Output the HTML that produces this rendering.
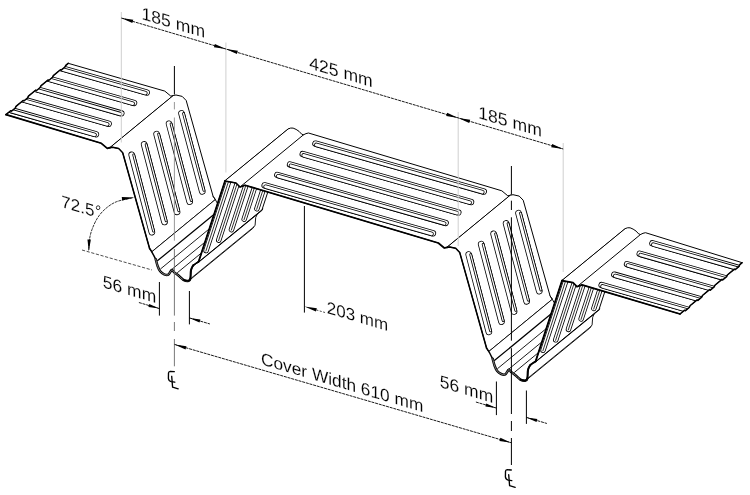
<!DOCTYPE html>
<html><head><meta charset="utf-8"><title>Deck profile</title>
<style>
html,body{margin:0;padding:0;background:#fff;}
body{width:750px;height:495px;overflow:hidden;font-family:"Liberation Sans",sans-serif;}
svg{display:block;filter:grayscale(1);}
text{font-family:"Liberation Sans",sans-serif;fill:#000;}
</style></head><body>
<svg width="750" height="495" viewBox="0 0 750 495">
<rect width="750" height="495" fill="#fff"/>
<g id="geom" stroke-linejoin="round" stroke-linecap="round">
<clipPath id="cfl"><path d="M6.00,114.60 L101.30,143.30 L107.30,148.30 L110.00,147.70 L173.50,95.50 L170.80,96.10 L164.80,91.10 L68.20,63.30 L65.77,65.30 L65.03,67.02 L61.17,70.20 L60.43,69.71 L53.33,75.56 L52.59,77.28 L48.73,80.46 L47.99,79.97 L40.89,85.82 L40.15,87.54 L36.29,90.72 L35.55,90.23 L28.45,96.08 L27.71,97.80 L23.85,100.98 L23.11,100.49 L16.01,106.34 L15.27,108.06 L11.41,111.24 L10.66,110.75 L6.00,114.60 Z"/></clipPath>
<path d="M6.00,114.60 L101.30,143.30 L107.30,148.30 L110.00,147.70 L173.50,95.50 L170.80,96.10 L164.80,91.10 L68.20,63.30 L65.77,65.30 L65.03,67.02 L61.17,70.20 L60.43,69.71 L53.33,75.56 L52.59,77.28 L48.73,80.46 L47.99,79.97 L40.89,85.82 L40.15,87.54 L36.29,90.72 L35.55,90.23 L28.45,96.08 L27.71,97.80 L23.85,100.98 L23.11,100.49 L16.01,106.34 L15.27,108.06 L11.41,111.24 L10.66,110.75 L6.00,114.60 Z" fill="#fff" stroke="#000" stroke-width="1.00" />
<line x1="-19.00" y1="101.51" x2="95.99" y2="134.28" stroke="#000" stroke-width="6.30" stroke-linecap="round" clip-path="url(#cfl)"/>
<line x1="-19.00" y1="101.51" x2="95.99" y2="134.28" stroke="#fff" stroke-width="4.70" stroke-linecap="round" clip-path="url(#cfl)"/>
<line x1="-18.11" y1="102.75" x2="94.58" y2="134.86" stroke="#000" stroke-width="4.40" stroke-linecap="round" clip-path="url(#cfl)"/>
<line x1="-18.11" y1="102.75" x2="94.58" y2="134.86" stroke="#fff" stroke-width="2.80" stroke-linecap="round" clip-path="url(#cfl)"/>
<line x1="-19.00" y1="87.45" x2="108.69" y2="123.84" stroke="#000" stroke-width="6.30" stroke-linecap="round" clip-path="url(#cfl)"/>
<line x1="-19.00" y1="87.45" x2="108.69" y2="123.84" stroke="#fff" stroke-width="4.70" stroke-linecap="round" clip-path="url(#cfl)"/>
<line x1="-18.11" y1="88.69" x2="107.28" y2="124.42" stroke="#000" stroke-width="4.40" stroke-linecap="round" clip-path="url(#cfl)"/>
<line x1="-18.11" y1="88.69" x2="107.28" y2="124.42" stroke="#fff" stroke-width="2.80" stroke-linecap="round" clip-path="url(#cfl)"/>
<line x1="-19.00" y1="73.39" x2="121.39" y2="113.40" stroke="#000" stroke-width="6.30" stroke-linecap="round" clip-path="url(#cfl)"/>
<line x1="-19.00" y1="73.39" x2="121.39" y2="113.40" stroke="#fff" stroke-width="4.70" stroke-linecap="round" clip-path="url(#cfl)"/>
<line x1="-18.11" y1="74.63" x2="119.98" y2="113.98" stroke="#000" stroke-width="4.40" stroke-linecap="round" clip-path="url(#cfl)"/>
<line x1="-18.11" y1="74.63" x2="119.98" y2="113.98" stroke="#fff" stroke-width="2.80" stroke-linecap="round" clip-path="url(#cfl)"/>
<line x1="-19.00" y1="59.33" x2="134.09" y2="102.96" stroke="#000" stroke-width="6.30" stroke-linecap="round" clip-path="url(#cfl)"/>
<line x1="-19.00" y1="59.33" x2="134.09" y2="102.96" stroke="#fff" stroke-width="4.70" stroke-linecap="round" clip-path="url(#cfl)"/>
<line x1="-18.11" y1="60.57" x2="132.68" y2="103.54" stroke="#000" stroke-width="4.40" stroke-linecap="round" clip-path="url(#cfl)"/>
<line x1="-18.11" y1="60.57" x2="132.68" y2="103.54" stroke="#fff" stroke-width="2.80" stroke-linecap="round" clip-path="url(#cfl)"/>
<line x1="-19.00" y1="45.27" x2="146.79" y2="92.52" stroke="#000" stroke-width="6.30" stroke-linecap="round" clip-path="url(#cfl)"/>
<line x1="-19.00" y1="45.27" x2="146.79" y2="92.52" stroke="#fff" stroke-width="4.70" stroke-linecap="round" clip-path="url(#cfl)"/>
<line x1="-18.11" y1="46.51" x2="145.38" y2="93.10" stroke="#000" stroke-width="4.40" stroke-linecap="round" clip-path="url(#cfl)"/>
<line x1="-18.11" y1="46.51" x2="145.38" y2="93.10" stroke="#fff" stroke-width="2.80" stroke-linecap="round" clip-path="url(#cfl)"/>
<path d="M6.00,114.60 L101.30,143.30 L107.30,148.30 L110.00,147.70" fill="none" stroke="#000" stroke-width="1.70" />
<path d="M68.20,63.30 L65.77,65.30 L65.03,67.02 L61.17,70.20 L60.43,69.71 L53.33,75.56 L52.59,77.28 L48.73,80.46 L47.99,79.97 L40.89,85.82 L40.15,87.54 L36.29,90.72 L35.55,90.23 L28.45,96.08 L27.71,97.80 L23.85,100.98 L23.11,100.49 L16.01,106.34 L15.27,108.06 L11.41,111.24 L10.66,110.75 L6.00,114.60" fill="none" stroke="#000" stroke-width="1.50" />
<path d="M110.00,147.70 L112.50,147.20 L118.70,148.60 L122.70,152.70 L149.60,248.50 L151.80,251.80 L215.30,199.60 L213.10,196.30 L186.20,100.50 L182.20,96.40 L176.00,95.00 L173.50,95.50 Z" fill="#fff" stroke="#000" stroke-width="1.00" />
<path d="M110.00,147.70 L112.50,147.20 L118.70,148.60 L122.70,152.70 L149.60,248.50" fill="none" stroke="#000" stroke-width="1.50" />
<path d="M151.80,251.80 L155.70,259.20 L157.70,266.30 L160.20,271.30 L164.20,274.30 L168.30,274.60 L171.80,270.00 L174.50,272.60 L178.50,275.50 L183.40,279.90 L188.50,280.90 L190.60,278.00 L191.20,270.30 L193.50,265.30 L198.60,261.70 L262.10,209.50 L257.00,213.10 L254.70,218.10 L254.10,225.80 L252.00,228.70 L246.90,227.70 L242.00,223.30 L238.00,220.40 L235.30,217.80 L231.80,222.40 L227.70,222.10 L223.70,219.10 L221.20,214.10 L219.20,207.00 L215.30,199.60 Z" fill="#fff" stroke="none" stroke-width="0.00" />
<path d="M213.10,196.30 C213.47,196.85 214.28,197.82 215.30,199.60 C216.32,201.38 218.22,204.58 219.20,207.00 C220.18,209.42 220.45,212.08 221.20,214.10 C221.95,216.12 223.28,218.27 223.70,219.10" fill="none" stroke="#000" stroke-width="1.00" />
<path d="M151.80,251.80 L215.30,199.60" fill="none" stroke="#000" stroke-width="0.90" />
<path d="M157.70,260.60 L221.20,208.40" fill="none" stroke="#000" stroke-width="1.25" />
<path d="M160.70,268.80 L224.20,216.60" fill="none" stroke="#000" stroke-width="0.90" />
<path d="M170.60,270.40 L234.10,218.20" fill="none" stroke="#000" stroke-width="0.90" />
<path d="M177.50,272.60 L241.00,220.40" fill="none" stroke="#000" stroke-width="0.90" />
<path d="M149.60,248.50 C149.97,249.05 150.78,250.02 151.80,251.80 C152.82,253.58 155.05,257.97 155.70,259.20" fill="none" stroke="#000" stroke-width="1.50" />
<path d="M155.70,259.20 C156.03,260.38 156.95,264.28 157.70,266.30 C158.45,268.32 159.12,269.97 160.20,271.30 C161.28,272.63 162.85,273.75 164.20,274.30 C165.55,274.85 167.03,275.32 168.30,274.60 C169.57,273.88 170.77,270.33 171.80,270.00 C172.83,269.67 173.38,271.68 174.50,272.60 C175.62,273.52 177.02,274.28 178.50,275.50 C179.98,276.72 181.73,279.00 183.40,279.90 C185.07,280.80 187.30,281.22 188.50,280.90 C189.70,280.58 190.15,279.77 190.60,278.00 C191.05,276.23 190.72,272.42 191.20,270.30 C191.68,268.18 193.12,266.13 193.50,265.30" fill="none" stroke="#000" stroke-width="2.50" />
<path d="M155.70,259.20 C156.03,260.38 156.95,264.28 157.70,266.30 C158.45,268.32 159.12,269.97 160.20,271.30 C161.28,272.63 162.85,273.75 164.20,274.30 C165.55,274.85 167.03,275.32 168.30,274.60 C169.57,273.88 170.77,270.33 171.80,270.00 C172.83,269.67 173.38,271.68 174.50,272.60 C175.62,273.52 177.02,274.28 178.50,275.50 C179.98,276.72 181.73,279.00 183.40,279.90 C185.07,280.80 187.30,281.22 188.50,280.90 C189.70,280.58 190.15,279.77 190.60,278.00 C191.05,276.23 190.72,272.42 191.20,270.30 C191.68,268.18 193.12,266.13 193.50,265.30" fill="none" stroke="#ddd" stroke-width="0.55" />
<path d="M193.50,265.30 C194.35,264.70 197.75,262.30 198.60,261.70" fill="none" stroke="#000" stroke-width="1.50" />
<line x1="131.73" y1="154.81" x2="151.87" y2="232.19" stroke="#000" stroke-width="6.60" stroke-linecap="round"/>
<line x1="131.73" y1="154.81" x2="151.87" y2="232.19" stroke="#fff" stroke-width="5.00" stroke-linecap="round"/>
<line x1="133.72" y1="154.91" x2="153.56" y2="231.13" stroke="#000" stroke-width="2.80" stroke-linecap="round"/>
<line x1="133.72" y1="154.91" x2="153.56" y2="231.13" stroke="#fff" stroke-width="1.20" stroke-linecap="round"/>
<line x1="144.18" y1="144.46" x2="164.47" y2="221.99" stroke="#000" stroke-width="6.60" stroke-linecap="round"/>
<line x1="144.18" y1="144.46" x2="164.47" y2="221.99" stroke="#fff" stroke-width="5.00" stroke-linecap="round"/>
<line x1="146.17" y1="144.56" x2="166.15" y2="220.93" stroke="#000" stroke-width="2.80" stroke-linecap="round"/>
<line x1="146.17" y1="144.56" x2="166.15" y2="220.93" stroke="#fff" stroke-width="1.20" stroke-linecap="round"/>
<line x1="156.64" y1="134.10" x2="177.06" y2="211.80" stroke="#000" stroke-width="6.60" stroke-linecap="round"/>
<line x1="156.64" y1="134.10" x2="177.06" y2="211.80" stroke="#fff" stroke-width="5.00" stroke-linecap="round"/>
<line x1="158.63" y1="134.20" x2="178.75" y2="210.73" stroke="#000" stroke-width="2.80" stroke-linecap="round"/>
<line x1="158.63" y1="134.20" x2="178.75" y2="210.73" stroke="#fff" stroke-width="1.20" stroke-linecap="round"/>
<line x1="169.09" y1="123.75" x2="189.66" y2="201.60" stroke="#000" stroke-width="6.60" stroke-linecap="round"/>
<line x1="169.09" y1="123.75" x2="189.66" y2="201.60" stroke="#fff" stroke-width="5.00" stroke-linecap="round"/>
<line x1="171.08" y1="123.85" x2="191.34" y2="200.53" stroke="#000" stroke-width="2.80" stroke-linecap="round"/>
<line x1="171.08" y1="123.85" x2="191.34" y2="200.53" stroke="#fff" stroke-width="1.20" stroke-linecap="round"/>
<line x1="181.54" y1="113.40" x2="202.26" y2="191.40" stroke="#000" stroke-width="6.60" stroke-linecap="round"/>
<line x1="181.54" y1="113.40" x2="202.26" y2="191.40" stroke="#fff" stroke-width="5.00" stroke-linecap="round"/>
<line x1="183.53" y1="113.50" x2="203.94" y2="190.33" stroke="#000" stroke-width="2.80" stroke-linecap="round"/>
<line x1="183.53" y1="113.50" x2="203.94" y2="190.33" stroke="#fff" stroke-width="1.20" stroke-linecap="round"/>
<path d="M188.50,280.90 L190.60,278.00 L191.20,270.30 L193.50,265.30 L198.60,261.70 L263.10,208.90 L258.00,212.50 L255.70,217.50 L255.10,225.20 L253.00,228.10 Z" fill="#fff" stroke="#000" stroke-width="0.90" />
<path d="M189.30,279.70 L253.80,226.90" fill="none" stroke="#000" stroke-width="0.80" />
<path d="M193.50,265.90 L258.00,213.10" fill="none" stroke="#000" stroke-width="0.80" />
<path d="M197.80,263.00 L262.30,210.20" fill="none" stroke="#000" stroke-width="0.80" />
<path d="M183.40,279.90 C184.25,280.07 187.30,281.22 188.50,280.90 C189.70,280.58 190.15,279.77 190.60,278.00 C191.05,276.23 190.72,272.42 191.20,270.30 C191.68,268.18 192.27,266.73 193.50,265.30 C194.73,263.87 197.75,262.30 198.60,261.70" fill="none" stroke="#000" stroke-width="1.60" />
<path d="M198.60,261.70 L225.00,181.00 L288.50,128.80 L262.10,209.50 Z" fill="#fff" stroke="#000" stroke-width="1.00" />
<path d="M198.60,261.70 L225.00,181.00" fill="none" stroke="#000" stroke-width="1.80" />
<line x1="206.05" y1="250.56" x2="228.36" y2="182.37" stroke="#000" stroke-width="5.40" stroke-linecap="round"/>
<line x1="206.05" y1="250.56" x2="228.36" y2="182.37" stroke="#fff" stroke-width="3.80" stroke-linecap="round"/>
<line x1="205.90" y1="251.06" x2="228.21" y2="182.37" stroke="#000" stroke-width="0.8"/>
<line x1="218.75" y1="240.12" x2="241.06" y2="171.93" stroke="#000" stroke-width="5.40" stroke-linecap="round"/>
<line x1="218.75" y1="240.12" x2="241.06" y2="171.93" stroke="#fff" stroke-width="3.80" stroke-linecap="round"/>
<line x1="218.60" y1="240.62" x2="240.91" y2="171.93" stroke="#000" stroke-width="0.8"/>
<line x1="231.45" y1="229.68" x2="253.76" y2="161.49" stroke="#000" stroke-width="5.40" stroke-linecap="round"/>
<line x1="231.45" y1="229.68" x2="253.76" y2="161.49" stroke="#fff" stroke-width="3.80" stroke-linecap="round"/>
<line x1="231.30" y1="230.18" x2="253.61" y2="161.49" stroke="#000" stroke-width="0.8"/>
<line x1="244.15" y1="219.24" x2="266.46" y2="151.05" stroke="#000" stroke-width="5.40" stroke-linecap="round"/>
<line x1="244.15" y1="219.24" x2="266.46" y2="151.05" stroke="#fff" stroke-width="3.80" stroke-linecap="round"/>
<line x1="244.00" y1="219.74" x2="266.31" y2="151.05" stroke="#000" stroke-width="0.8"/>
<line x1="256.85" y1="208.80" x2="279.16" y2="140.61" stroke="#000" stroke-width="5.40" stroke-linecap="round"/>
<line x1="256.85" y1="208.80" x2="279.16" y2="140.61" stroke="#fff" stroke-width="3.80" stroke-linecap="round"/>
<line x1="256.70" y1="209.30" x2="279.01" y2="140.61" stroke="#000" stroke-width="0.8"/>
<clipPath id="cfc"><path d="M225.00,181.00 L236.00,183.00 L240.00,187.00 L245.00,185.20 L438.30,243.00 L444.30,248.00 L447.00,247.40 L510.50,195.20 L507.80,195.80 L501.80,190.80 L308.50,133.00 L306.00,133.60 L303.50,134.80 L301.70,134.20 L299.10,131.40 L296.10,129.40 L293.10,128.10 L290.70,128.05 L288.50,128.80 Z"/></clipPath>
<path d="M225.00,181.00 L236.00,183.00 L240.00,187.00 L245.00,185.20 L438.30,243.00 L444.30,248.00 L447.00,247.40 L510.50,195.20 L507.80,195.80 L501.80,190.80 L308.50,133.00 L306.00,133.60 L303.50,134.80 L301.70,134.20 L299.10,131.40 L296.10,129.40 L293.10,128.10 L290.70,128.05 L288.50,128.80 Z" fill="#fff" stroke="#000" stroke-width="1.00" />
<path d="M240.00,187.00 L303.50,134.80" fill="none" stroke="#000" stroke-width="1.00" />
<line x1="264.59" y1="185.38" x2="432.99" y2="233.38" stroke="#000" stroke-width="6.30" stroke-linecap="round" clip-path="url(#cfc)"/>
<line x1="264.59" y1="185.38" x2="432.99" y2="233.38" stroke="#fff" stroke-width="4.70" stroke-linecap="round" clip-path="url(#cfc)"/>
<line x1="265.49" y1="186.63" x2="431.58" y2="233.96" stroke="#000" stroke-width="4.40" stroke-linecap="round" clip-path="url(#cfc)"/>
<line x1="265.49" y1="186.63" x2="431.58" y2="233.96" stroke="#fff" stroke-width="2.80" stroke-linecap="round" clip-path="url(#cfc)"/>
<line x1="277.29" y1="174.94" x2="445.69" y2="222.94" stroke="#000" stroke-width="6.30" stroke-linecap="round" clip-path="url(#cfc)"/>
<line x1="277.29" y1="174.94" x2="445.69" y2="222.94" stroke="#fff" stroke-width="4.70" stroke-linecap="round" clip-path="url(#cfc)"/>
<line x1="278.19" y1="176.19" x2="444.28" y2="223.52" stroke="#000" stroke-width="4.40" stroke-linecap="round" clip-path="url(#cfc)"/>
<line x1="278.19" y1="176.19" x2="444.28" y2="223.52" stroke="#fff" stroke-width="2.80" stroke-linecap="round" clip-path="url(#cfc)"/>
<line x1="289.99" y1="164.50" x2="458.39" y2="212.50" stroke="#000" stroke-width="6.30" stroke-linecap="round" clip-path="url(#cfc)"/>
<line x1="289.99" y1="164.50" x2="458.39" y2="212.50" stroke="#fff" stroke-width="4.70" stroke-linecap="round" clip-path="url(#cfc)"/>
<line x1="290.89" y1="165.75" x2="456.98" y2="213.08" stroke="#000" stroke-width="4.40" stroke-linecap="round" clip-path="url(#cfc)"/>
<line x1="290.89" y1="165.75" x2="456.98" y2="213.08" stroke="#fff" stroke-width="2.80" stroke-linecap="round" clip-path="url(#cfc)"/>
<line x1="302.69" y1="154.06" x2="471.09" y2="202.06" stroke="#000" stroke-width="6.30" stroke-linecap="round" clip-path="url(#cfc)"/>
<line x1="302.69" y1="154.06" x2="471.09" y2="202.06" stroke="#fff" stroke-width="4.70" stroke-linecap="round" clip-path="url(#cfc)"/>
<line x1="303.59" y1="155.31" x2="469.68" y2="202.64" stroke="#000" stroke-width="4.40" stroke-linecap="round" clip-path="url(#cfc)"/>
<line x1="303.59" y1="155.31" x2="469.68" y2="202.64" stroke="#fff" stroke-width="2.80" stroke-linecap="round" clip-path="url(#cfc)"/>
<line x1="315.39" y1="143.62" x2="483.79" y2="191.62" stroke="#000" stroke-width="6.30" stroke-linecap="round" clip-path="url(#cfc)"/>
<line x1="315.39" y1="143.62" x2="483.79" y2="191.62" stroke="#fff" stroke-width="4.70" stroke-linecap="round" clip-path="url(#cfc)"/>
<line x1="316.29" y1="144.87" x2="482.38" y2="192.20" stroke="#000" stroke-width="4.40" stroke-linecap="round" clip-path="url(#cfc)"/>
<line x1="316.29" y1="144.87" x2="482.38" y2="192.20" stroke="#fff" stroke-width="2.80" stroke-linecap="round" clip-path="url(#cfc)"/>
<path d="M225.00,181.00 L236.00,183.00 L240.00,187.00 L245.00,185.20 L438.30,243.00 L444.30,248.00 L447.00,247.40" fill="none" stroke="#000" stroke-width="1.70" />
<path d="M447.00,247.40 L449.50,246.90 L455.70,248.30 L459.70,252.40 L486.60,348.20 L488.80,351.50 L552.30,299.30 L550.10,296.00 L523.20,200.20 L519.20,196.10 L513.00,194.70 L510.50,195.20 Z" fill="#fff" stroke="#000" stroke-width="1.00" />
<path d="M447.00,247.40 L449.50,246.90 L455.70,248.30 L459.70,252.40 L486.60,348.20" fill="none" stroke="#000" stroke-width="1.50" />
<path d="M488.80,351.50 L492.70,358.90 L494.70,366.00 L497.20,371.00 L501.20,374.00 L505.30,374.30 L508.80,369.70 L511.50,372.30 L515.50,375.20 L520.40,379.60 L525.50,380.60 L527.60,377.70 L528.20,370.00 L530.50,365.00 L535.60,361.40 L599.10,309.20 L594.00,312.80 L591.70,317.80 L591.10,325.50 L589.00,328.40 L583.90,327.40 L579.00,323.00 L575.00,320.10 L572.30,317.50 L568.80,322.10 L564.70,321.80 L560.70,318.80 L558.20,313.80 L556.20,306.70 L552.30,299.30 Z" fill="#fff" stroke="none" stroke-width="0.00" />
<path d="M550.10,296.00 C550.47,296.55 551.28,297.52 552.30,299.30 C553.32,301.08 555.22,304.28 556.20,306.70 C557.18,309.12 557.45,311.78 558.20,313.80 C558.95,315.82 560.28,317.97 560.70,318.80" fill="none" stroke="#000" stroke-width="1.00" />
<path d="M488.80,351.50 L552.30,299.30" fill="none" stroke="#000" stroke-width="0.90" />
<path d="M494.70,360.30 L558.20,308.10" fill="none" stroke="#000" stroke-width="1.25" />
<path d="M497.70,368.50 L561.20,316.30" fill="none" stroke="#000" stroke-width="0.90" />
<path d="M507.60,370.10 L571.10,317.90" fill="none" stroke="#000" stroke-width="0.90" />
<path d="M514.50,372.30 L578.00,320.10" fill="none" stroke="#000" stroke-width="0.90" />
<path d="M486.60,348.20 C486.97,348.75 487.78,349.72 488.80,351.50 C489.82,353.28 492.05,357.67 492.70,358.90" fill="none" stroke="#000" stroke-width="1.50" />
<path d="M492.70,358.90 C493.03,360.08 493.95,363.98 494.70,366.00 C495.45,368.02 496.12,369.67 497.20,371.00 C498.28,372.33 499.85,373.45 501.20,374.00 C502.55,374.55 504.03,375.02 505.30,374.30 C506.57,373.58 507.77,370.03 508.80,369.70 C509.83,369.37 510.38,371.38 511.50,372.30 C512.62,373.22 514.02,373.98 515.50,375.20 C516.98,376.42 518.73,378.70 520.40,379.60 C522.07,380.50 524.30,380.92 525.50,380.60 C526.70,380.28 527.15,379.47 527.60,377.70 C528.05,375.93 527.72,372.12 528.20,370.00 C528.68,367.88 530.12,365.83 530.50,365.00" fill="none" stroke="#000" stroke-width="2.50" />
<path d="M492.70,358.90 C493.03,360.08 493.95,363.98 494.70,366.00 C495.45,368.02 496.12,369.67 497.20,371.00 C498.28,372.33 499.85,373.45 501.20,374.00 C502.55,374.55 504.03,375.02 505.30,374.30 C506.57,373.58 507.77,370.03 508.80,369.70 C509.83,369.37 510.38,371.38 511.50,372.30 C512.62,373.22 514.02,373.98 515.50,375.20 C516.98,376.42 518.73,378.70 520.40,379.60 C522.07,380.50 524.30,380.92 525.50,380.60 C526.70,380.28 527.15,379.47 527.60,377.70 C528.05,375.93 527.72,372.12 528.20,370.00 C528.68,367.88 530.12,365.83 530.50,365.00" fill="none" stroke="#ddd" stroke-width="0.55" />
<path d="M530.50,365.00 C531.35,364.40 534.75,362.00 535.60,361.40" fill="none" stroke="#000" stroke-width="1.50" />
<line x1="468.73" y1="254.51" x2="488.87" y2="331.89" stroke="#000" stroke-width="6.60" stroke-linecap="round"/>
<line x1="468.73" y1="254.51" x2="488.87" y2="331.89" stroke="#fff" stroke-width="5.00" stroke-linecap="round"/>
<line x1="470.72" y1="254.61" x2="490.56" y2="330.83" stroke="#000" stroke-width="2.80" stroke-linecap="round"/>
<line x1="470.72" y1="254.61" x2="490.56" y2="330.83" stroke="#fff" stroke-width="1.20" stroke-linecap="round"/>
<line x1="481.18" y1="244.16" x2="501.47" y2="321.69" stroke="#000" stroke-width="6.60" stroke-linecap="round"/>
<line x1="481.18" y1="244.16" x2="501.47" y2="321.69" stroke="#fff" stroke-width="5.00" stroke-linecap="round"/>
<line x1="483.17" y1="244.26" x2="503.15" y2="320.63" stroke="#000" stroke-width="2.80" stroke-linecap="round"/>
<line x1="483.17" y1="244.26" x2="503.15" y2="320.63" stroke="#fff" stroke-width="1.20" stroke-linecap="round"/>
<line x1="493.64" y1="233.80" x2="514.06" y2="311.50" stroke="#000" stroke-width="6.60" stroke-linecap="round"/>
<line x1="493.64" y1="233.80" x2="514.06" y2="311.50" stroke="#fff" stroke-width="5.00" stroke-linecap="round"/>
<line x1="495.63" y1="233.90" x2="515.75" y2="310.43" stroke="#000" stroke-width="2.80" stroke-linecap="round"/>
<line x1="495.63" y1="233.90" x2="515.75" y2="310.43" stroke="#fff" stroke-width="1.20" stroke-linecap="round"/>
<line x1="506.09" y1="223.45" x2="526.66" y2="301.30" stroke="#000" stroke-width="6.60" stroke-linecap="round"/>
<line x1="506.09" y1="223.45" x2="526.66" y2="301.30" stroke="#fff" stroke-width="5.00" stroke-linecap="round"/>
<line x1="508.08" y1="223.55" x2="528.34" y2="300.23" stroke="#000" stroke-width="2.80" stroke-linecap="round"/>
<line x1="508.08" y1="223.55" x2="528.34" y2="300.23" stroke="#fff" stroke-width="1.20" stroke-linecap="round"/>
<line x1="518.54" y1="213.10" x2="539.26" y2="291.10" stroke="#000" stroke-width="6.60" stroke-linecap="round"/>
<line x1="518.54" y1="213.10" x2="539.26" y2="291.10" stroke="#fff" stroke-width="5.00" stroke-linecap="round"/>
<line x1="520.53" y1="213.20" x2="540.94" y2="290.03" stroke="#000" stroke-width="2.80" stroke-linecap="round"/>
<line x1="520.53" y1="213.20" x2="540.94" y2="290.03" stroke="#fff" stroke-width="1.20" stroke-linecap="round"/>
<path d="M525.50,380.60 L527.60,377.70 L528.20,370.00 L530.50,365.00 L535.60,361.40 L600.10,308.60 L595.00,312.20 L592.70,317.20 L592.10,324.90 L590.00,327.80 Z" fill="#fff" stroke="#000" stroke-width="0.90" />
<path d="M526.30,379.40 L590.80,326.60" fill="none" stroke="#000" stroke-width="0.80" />
<path d="M530.50,365.60 L595.00,312.80" fill="none" stroke="#000" stroke-width="0.80" />
<path d="M534.80,362.70 L599.30,309.90" fill="none" stroke="#000" stroke-width="0.80" />
<path d="M520.40,379.60 C521.25,379.77 524.30,380.92 525.50,380.60 C526.70,380.28 527.15,379.47 527.60,377.70 C528.05,375.93 527.72,372.12 528.20,370.00 C528.68,367.88 529.27,366.43 530.50,365.00 C531.73,363.57 534.75,362.00 535.60,361.40" fill="none" stroke="#000" stroke-width="1.60" />
<path d="M535.60,361.40 L562.00,280.70 L625.50,228.50 L599.10,309.20 Z" fill="#fff" stroke="#000" stroke-width="1.00" />
<path d="M535.60,361.40 L562.00,280.70" fill="none" stroke="#000" stroke-width="1.80" />
<line x1="543.05" y1="350.26" x2="565.36" y2="282.07" stroke="#000" stroke-width="5.40" stroke-linecap="round"/>
<line x1="543.05" y1="350.26" x2="565.36" y2="282.07" stroke="#fff" stroke-width="3.80" stroke-linecap="round"/>
<line x1="542.90" y1="350.76" x2="565.21" y2="282.07" stroke="#000" stroke-width="0.8"/>
<line x1="555.75" y1="339.82" x2="578.06" y2="271.63" stroke="#000" stroke-width="5.40" stroke-linecap="round"/>
<line x1="555.75" y1="339.82" x2="578.06" y2="271.63" stroke="#fff" stroke-width="3.80" stroke-linecap="round"/>
<line x1="555.60" y1="340.32" x2="577.91" y2="271.63" stroke="#000" stroke-width="0.8"/>
<line x1="568.45" y1="329.38" x2="590.76" y2="261.19" stroke="#000" stroke-width="5.40" stroke-linecap="round"/>
<line x1="568.45" y1="329.38" x2="590.76" y2="261.19" stroke="#fff" stroke-width="3.80" stroke-linecap="round"/>
<line x1="568.30" y1="329.88" x2="590.61" y2="261.19" stroke="#000" stroke-width="0.8"/>
<line x1="581.15" y1="318.94" x2="603.46" y2="250.75" stroke="#000" stroke-width="5.40" stroke-linecap="round"/>
<line x1="581.15" y1="318.94" x2="603.46" y2="250.75" stroke="#fff" stroke-width="3.80" stroke-linecap="round"/>
<line x1="581.00" y1="319.44" x2="603.31" y2="250.75" stroke="#000" stroke-width="0.8"/>
<line x1="593.85" y1="308.50" x2="616.16" y2="240.31" stroke="#000" stroke-width="5.40" stroke-linecap="round"/>
<line x1="593.85" y1="308.50" x2="616.16" y2="240.31" stroke="#fff" stroke-width="3.80" stroke-linecap="round"/>
<line x1="593.70" y1="309.00" x2="616.01" y2="240.31" stroke="#000" stroke-width="0.8"/>
<clipPath id="cfr"><path d="M562.00,280.70 L573.00,282.70 L577.00,286.70 L582.00,284.90 L680.00,314.00 L684.66,310.15 L685.41,310.64 L689.27,307.46 L690.01,305.74 L697.11,299.89 L697.85,300.38 L701.71,297.20 L702.45,295.48 L709.54,289.63 L710.29,290.12 L714.15,286.94 L714.89,285.22 L721.99,279.37 L722.73,279.86 L726.59,276.68 L727.33,274.96 L734.42,269.11 L735.17,269.60 L739.03,266.42 L739.77,264.70 L742.20,262.70 L645.50,232.70 L643.00,233.30 L640.50,234.50 L638.70,233.90 L636.10,231.10 L633.10,229.10 L630.10,227.80 L627.70,227.75 L625.50,228.50 Z"/></clipPath>
<path d="M562.00,280.70 L573.00,282.70 L577.00,286.70 L582.00,284.90 L680.00,314.00 L684.66,310.15 L685.41,310.64 L689.27,307.46 L690.01,305.74 L697.11,299.89 L697.85,300.38 L701.71,297.20 L702.45,295.48 L709.54,289.63 L710.29,290.12 L714.15,286.94 L714.89,285.22 L721.99,279.37 L722.73,279.86 L726.59,276.68 L727.33,274.96 L734.42,269.11 L735.17,269.60 L739.03,266.42 L739.77,264.70 L742.20,262.70 L645.50,232.70 L643.00,233.30 L640.50,234.50 L638.70,233.90 L636.10,231.10 L633.10,229.10 L630.10,227.80 L627.70,227.75 L625.50,228.50 Z" fill="#fff" stroke="#000" stroke-width="1.00" />
<path d="M577.00,286.70 L640.50,234.50" fill="none" stroke="#000" stroke-width="1.00" />
<line x1="601.59" y1="285.08" x2="712.49" y2="316.69" stroke="#000" stroke-width="6.30" stroke-linecap="round" clip-path="url(#cfr)"/>
<line x1="601.59" y1="285.08" x2="712.49" y2="316.69" stroke="#fff" stroke-width="4.70" stroke-linecap="round" clip-path="url(#cfr)"/>
<line x1="602.49" y1="286.33" x2="711.08" y2="317.28" stroke="#000" stroke-width="4.40" stroke-linecap="round" clip-path="url(#cfr)"/>
<line x1="602.49" y1="286.33" x2="711.08" y2="317.28" stroke="#fff" stroke-width="2.80" stroke-linecap="round" clip-path="url(#cfr)"/>
<line x1="614.29" y1="274.64" x2="725.19" y2="306.25" stroke="#000" stroke-width="6.30" stroke-linecap="round" clip-path="url(#cfr)"/>
<line x1="614.29" y1="274.64" x2="725.19" y2="306.25" stroke="#fff" stroke-width="4.70" stroke-linecap="round" clip-path="url(#cfr)"/>
<line x1="615.19" y1="275.89" x2="723.78" y2="306.84" stroke="#000" stroke-width="4.40" stroke-linecap="round" clip-path="url(#cfr)"/>
<line x1="615.19" y1="275.89" x2="723.78" y2="306.84" stroke="#fff" stroke-width="2.80" stroke-linecap="round" clip-path="url(#cfr)"/>
<line x1="626.99" y1="264.20" x2="737.89" y2="295.81" stroke="#000" stroke-width="6.30" stroke-linecap="round" clip-path="url(#cfr)"/>
<line x1="626.99" y1="264.20" x2="737.89" y2="295.81" stroke="#fff" stroke-width="4.70" stroke-linecap="round" clip-path="url(#cfr)"/>
<line x1="627.89" y1="265.45" x2="736.48" y2="296.40" stroke="#000" stroke-width="4.40" stroke-linecap="round" clip-path="url(#cfr)"/>
<line x1="627.89" y1="265.45" x2="736.48" y2="296.40" stroke="#fff" stroke-width="2.80" stroke-linecap="round" clip-path="url(#cfr)"/>
<line x1="639.69" y1="253.76" x2="750.59" y2="285.37" stroke="#000" stroke-width="6.30" stroke-linecap="round" clip-path="url(#cfr)"/>
<line x1="639.69" y1="253.76" x2="750.59" y2="285.37" stroke="#fff" stroke-width="4.70" stroke-linecap="round" clip-path="url(#cfr)"/>
<line x1="640.59" y1="255.01" x2="749.18" y2="285.96" stroke="#000" stroke-width="4.40" stroke-linecap="round" clip-path="url(#cfr)"/>
<line x1="640.59" y1="255.01" x2="749.18" y2="285.96" stroke="#fff" stroke-width="2.80" stroke-linecap="round" clip-path="url(#cfr)"/>
<line x1="652.39" y1="243.32" x2="763.29" y2="274.93" stroke="#000" stroke-width="6.30" stroke-linecap="round" clip-path="url(#cfr)"/>
<line x1="652.39" y1="243.32" x2="763.29" y2="274.93" stroke="#fff" stroke-width="4.70" stroke-linecap="round" clip-path="url(#cfr)"/>
<line x1="653.29" y1="244.57" x2="761.88" y2="275.52" stroke="#000" stroke-width="4.40" stroke-linecap="round" clip-path="url(#cfr)"/>
<line x1="653.29" y1="244.57" x2="761.88" y2="275.52" stroke="#fff" stroke-width="2.80" stroke-linecap="round" clip-path="url(#cfr)"/>
<path d="M562.00,280.70 L573.00,282.70 L577.00,286.70 L582.00,284.90 L680.00,314.00" fill="none" stroke="#000" stroke-width="1.70" />
<path d="M680.00,314.00 L684.66,310.15 L685.41,310.64 L689.27,307.46 L690.01,305.74 L697.11,299.89 L697.85,300.38 L701.71,297.20 L702.45,295.48 L709.54,289.63 L710.29,290.12 L714.15,286.94 L714.89,285.22 L721.99,279.37 L722.73,279.86 L726.59,276.68 L727.33,274.96 L734.42,269.11 L735.17,269.60 L739.03,266.42 L739.77,264.70 L742.20,262.70" fill="none" stroke="#000" stroke-width="1.50" />
</g>
<g id="dims">
<line x1="121.30" y1="12.00" x2="121.30" y2="142.50" stroke="#cfcfcf" stroke-width="1.00"/>
<line x1="225.90" y1="42.50" x2="225.90" y2="172.50" stroke="#cfcfcf" stroke-width="1.00"/>
<line x1="458.20" y1="112.00" x2="458.20" y2="246.00" stroke="#cfcfcf" stroke-width="1.00"/>
<line x1="563.20" y1="143.00" x2="563.20" y2="272.00" stroke="#cfcfcf" stroke-width="1.00"/>
<line x1="121.30" y1="18.00" x2="563.20" y2="149.02" stroke="#000" stroke-width="0.90" stroke-dasharray="3 0.8"/>
<path d="M121.30,18.00 L133.29,19.78 L132.32,23.04 Z" fill="#000"/>
<path d="M225.90,49.01 L213.91,47.23 L214.88,43.97 Z" fill="#000"/>
<path d="M225.90,49.01 L237.89,50.80 L236.92,54.05 Z" fill="#000"/>
<path d="M458.20,117.89 L446.21,116.11 L447.18,112.85 Z" fill="#000"/>
<path d="M458.20,117.89 L470.19,119.67 L469.22,122.93 Z" fill="#000"/>
<path d="M563.20,149.02 L551.21,147.24 L552.18,143.98 Z" fill="#000"/>
<text x="0" y="0" font-size="17.60" stroke="#fff" stroke-width="0.12" transform="matrix(1 0.2965 0 1 141.50 19.00)">185 mm</text>
<text x="0" y="0" font-size="17.60" stroke="#fff" stroke-width="0.12" transform="matrix(1 0.2965 0 1 309.20 68.40)">425 mm</text>
<text x="0" y="0" font-size="17.60" stroke="#fff" stroke-width="0.12" transform="matrix(1 0.2965 0 1 478.30 118.00)">185 mm</text>
<line x1="174.40" y1="66.00" x2="174.40" y2="94.50" stroke="#000" stroke-width="1.00"/>
<line x1="174.40" y1="102.00" x2="174.40" y2="109.40" stroke="#8c8c8c" stroke-width="0.90"/>
<line x1="174.40" y1="117.50" x2="174.40" y2="240.70" stroke="#8c8c8c" stroke-width="0.90"/>
<line x1="174.40" y1="249.00" x2="174.40" y2="315.60" stroke="#6a6a6a" stroke-width="0.90"/>
<line x1="174.40" y1="322.00" x2="174.40" y2="331.00" stroke="#6a6a6a" stroke-width="0.90"/>
<line x1="174.40" y1="339.00" x2="174.40" y2="366.30" stroke="#6a6a6a" stroke-width="0.90"/>
<line x1="511.40" y1="166.00" x2="511.40" y2="194.70" stroke="#000" stroke-width="1.00"/>
<line x1="511.40" y1="200.70" x2="511.40" y2="210.00" stroke="#000" stroke-width="1.00"/>
<line x1="511.40" y1="217.30" x2="511.40" y2="340.70" stroke="#000" stroke-width="1.00"/>
<line x1="511.40" y1="348.20" x2="511.40" y2="414.00" stroke="#000" stroke-width="1.00"/>
<line x1="511.40" y1="421.00" x2="511.40" y2="431.00" stroke="#000" stroke-width="1.00"/>
<line x1="511.40" y1="438.00" x2="511.40" y2="465.00" stroke="#000" stroke-width="1.00"/>
<path d="M174.30,371.60 L170.20,371.30 Q168.60,371.40 168.50,373.00 L168.40,378.50 Q168.80,381.20 171.20,381.70 L174.80,382.20" fill="none" stroke="#000" stroke-width="1.35" stroke-linecap="round" stroke-linejoin="round"/>
<path d="M171.70,376.30 L172.60,387.20 L178.20,388.90" fill="none" stroke="#000" stroke-width="1.35" stroke-linecap="round" stroke-linejoin="round"/>
<path d="M511.30,470.00 L507.20,469.70 Q505.60,469.80 505.50,471.40 L505.40,476.90 Q505.80,479.60 508.20,480.10 L511.80,480.60" fill="none" stroke="#000" stroke-width="1.35" stroke-linecap="round" stroke-linejoin="round"/>
<path d="M508.70,474.70 L509.60,485.60 L515.20,487.30" fill="none" stroke="#000" stroke-width="1.35" stroke-linecap="round" stroke-linejoin="round"/>
<line x1="159.40" y1="282.00" x2="159.40" y2="315.60" stroke="#000" stroke-width="1.00"/>
<line x1="189.40" y1="291.00" x2="189.40" y2="324.40" stroke="#000" stroke-width="1.00"/>
<line x1="138.90" y1="302.52" x2="159.40" y2="308.60" stroke="#000" stroke-width="0.90" stroke-dasharray="3 0.8"/>
<path d="M159.40,308.60 L148.43,306.91 L149.28,304.03 Z" fill="#000"/>
<line x1="189.40" y1="317.89" x2="209.90" y2="323.97" stroke="#000" stroke-width="0.90" stroke-dasharray="3 0.8"/>
<path d="M189.40,317.89 L200.37,319.58 L199.52,322.46 Z" fill="#000"/>
<text x="0" y="0" font-size="17.50" stroke="#fff" stroke-width="0.12" transform="matrix(1 0.2965 0 1 102.80 287.30)">56 mm</text>
<line x1="496.40" y1="381.50" x2="496.40" y2="415.10" stroke="#000" stroke-width="1.00"/>
<line x1="526.40" y1="390.50" x2="526.40" y2="423.90" stroke="#000" stroke-width="1.00"/>
<line x1="475.90" y1="402.02" x2="496.40" y2="408.10" stroke="#000" stroke-width="0.90" stroke-dasharray="3 0.8"/>
<path d="M496.40,408.10 L485.43,406.41 L486.28,403.53 Z" fill="#000"/>
<line x1="526.40" y1="417.39" x2="546.90" y2="423.47" stroke="#000" stroke-width="0.90" stroke-dasharray="3 0.8"/>
<path d="M526.40,417.39 L537.37,419.08 L536.52,421.96 Z" fill="#000"/>
<text x="0" y="0" font-size="17.50" stroke="#fff" stroke-width="0.12" transform="matrix(1 0.2965 0 1 439.80 387.10)">56 mm</text>
<line x1="174.50" y1="344.40" x2="511.40" y2="442.79" stroke="#000" stroke-width="0.90" stroke-dasharray="3 0.8"/>
<path d="M174.50,344.40 L186.49,346.18 L185.52,349.44 Z" fill="#000"/>
<path d="M511.40,442.79 L499.41,441.01 L500.38,437.75 Z" fill="#000"/>
<text x="0" y="0" font-size="17.30" stroke="#fff" stroke-width="0.12" transform="matrix(1 0.2965 0 1 261.00 364.20)">Cover Width 610 mm</text>
<line x1="304.40" y1="206.00" x2="304.40" y2="312.60" stroke="#000" stroke-width="1.00"/>
<path d="M304.40,306.40 L316.87,308.32 L315.90,311.58 Z" fill="#000"/>
<line x1="316.40" y1="309.96" x2="325.40" y2="312.63" stroke="#000" stroke-width="0.70" stroke-dasharray="2 1.5"/>
<text x="0" y="0" font-size="17.00" stroke="#fff" stroke-width="0.12" transform="matrix(1 0.2965 0 1 326.80 313.00)">203 mm</text>
<line x1="82.00" y1="250.00" x2="152.00" y2="270.00" stroke="#000" stroke-width="0.70" stroke-dasharray="3.2 1.6"/>
<path d="M132.50,197.90 C129.88,198.52 121.22,199.87 116.80,201.60 C112.38,203.33 109.17,205.65 106.00,208.30 C102.83,210.95 100.13,213.97 97.80,217.50 C95.47,221.03 93.40,225.75 92.00,229.50 C90.60,233.25 89.93,236.50 89.40,240.00 C88.87,243.50 88.90,248.75 88.80,250.50" fill="none" stroke="#000" stroke-width="0.8" stroke-dasharray="3 0.8"/>
<path d="M134.40,197.50 L122.13,200.44 L121.79,197.05 Z" fill="#000"/>
<path d="M88.80,251.50 L87.46,239.45 L90.86,239.56 Z" fill="#000"/>
<text x="0" y="0" font-size="17.00" stroke="#fff" stroke-width="0.12" transform="matrix(1 0.2965 0 1 61.30 207.00)">72.5</text>
<ellipse cx="98.1" cy="207.7" rx="1.75" ry="1.95" fill="none" stroke="#000" stroke-width="0.8"/>
</g>
</svg>
</body></html>
